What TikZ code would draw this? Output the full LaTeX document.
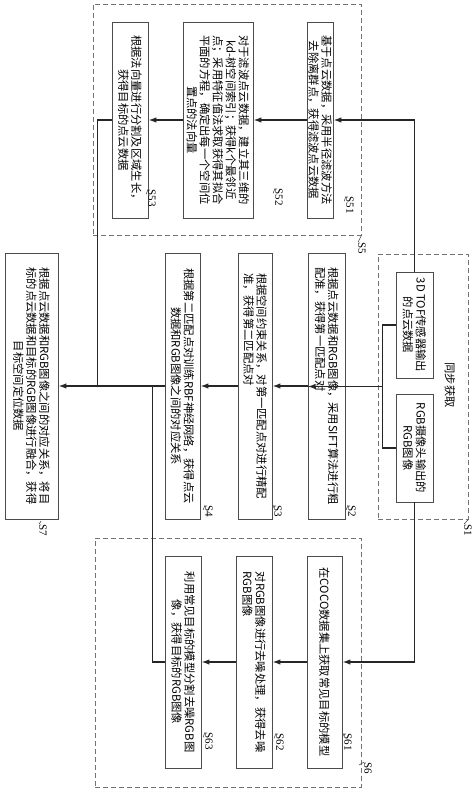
\documentclass[tikz,border=0pt]{standalone}
\usepackage{fontspec}
\setmainfont{Noto Sans CJK SC}
\newfontfamily\lat{Liberation Serif}
\usetikzlibrary{arrows.meta,calc,positioning}
\tikzset{
  box/.style={draw=black!70,line width=0.8pt,rotate=-90,align=center,inner xsep=1pt,inner ysep=0.5pt,font=\fontsize{11.3}{13}\selectfont},
  group/.style={draw=black!55,dash pattern=on 5pt off 3pt,line width=0.8pt,inner sep=0pt},
  flow/.style={draw=black!85,line width=1.4pt,-{Latex[length=8pt,width=5.5pt]}},
  link/.style={draw=black!85,line width=1.4pt},
  stepnum/.style={rotate=-90,inner sep=0pt,font=\lat\fontsize{11}{11}\selectfont},
  tick/.style={draw=black!70,line width=0.6pt}
}
\begin{document}
\begin{tikzpicture}[x=1pt,y=-1pt]
\useasboundingbox (0,0) rectangle (474,792);

\node[group,minimum width=268pt,minimum height=231pt] (g5) at (227,119.5) {};
\node[group,minimum width=90pt,minimum height=265pt] (g1) at (423,386.5) {};
\node[group,minimum width=266pt,minimum height=249pt] (g6) at (228,662.5) {};

\node[box,minimum width=196pt,minimum height=26pt] (s51) at (320,120) {基于点云数据，采用半径滤波方法\\去除离群点，获得滤波点云数据};
\node[box,minimum width=196pt,minimum height=70pt] (s52) at (218,120) {对于滤波点云数据，建立其三维的\\kd-树空间索引；获得k个最邻近\\点；采用特征值法求取获得其拟合\\平面的方程，确定出每一个空间位\\置点的法向量};
\node[box,minimum width=196pt,minimum height=36pt] (s53) at (130,120) {根据法向量进行分割及区域生长，\\获得目标的点云数据};

\node[box,minimum width=106pt,minimum height=37pt] (tof) at (414.5,325) {3D TOF传感器输出\\的点云数据};
\node[box,minimum width=108pt,minimum height=37pt] (cam) at (414.5,448) {RGB摄像头输出的\\RGB图像};
\node[rotate=-90,font=\fontsize{11.3}{13}\selectfont] (sync) at (450,385) {同步获取};

\node[box,minimum width=266pt,minimum height=37pt,align=left] (s2) at (326.5,386) {根据点云数据和RGB图像，采用SIFT算法进行粗\\配准，获得第一匹配点对};
\node[box,minimum width=266pt,minimum height=34pt,align=left] (s3) at (255,386) {根据空间约束关系，对第一匹配点对进行精配\\准，获得第二匹配点对};
\node[box,minimum width=266pt,minimum height=35pt] (s4) at (182.5,386) {根据第二匹配点对训练RBF神经网络，获得点云\\数据和RGB图像之间的对应关系};
\node[box,minimum width=266pt,minimum height=53pt] (s7) at (31.5,386) {根据点云数据和RGB图像之间的对应关系，将目\\标的点云数据和目标的RGB图像进行融合，获得\\目标空间定位数据};

\node[box,minimum width=212pt,minimum height=35pt] (s61) at (324.5,662) {在COCO数据集上获取常见目标的模型};
\node[box,minimum width=212pt,minimum height=36pt,align=left] (s62) at (254,662) {对RGB图像进行去噪处理，获得去噪\\RGB图像};
\node[box,minimum width=212pt,minimum height=36pt] (s63) at (183,662) {利用常见目标的模型分割去噪RGB图\\像，获得目标的RGB图像};

\node[stepnum] (l51) at (350,205) {S51};
\node[stepnum] (l52) at (279,197) {S52};
\node[stepnum] (l53) at (152,198) {S53};
\node[stepnum] (l5) at (362,248) {S5};
\node[stepnum] (l1) at (468,530) {S1};
\node[stepnum] (l2) at (352,511) {S2};
\node[stepnum] (l3) at (278,511) {S3};
\node[stepnum] (l4) at (209,511) {S4};
\node[stepnum] (l7) at (43,530) {S7};
\node[stepnum] (l61) at (348,742) {S61};
\node[stepnum] (l62) at (280,742) {S62};
\node[stepnum] (l63) at (209,741) {S63};
\node[stepnum] (l6) at (368,768) {S6};

\draw[flow] (tof.west) |- (s51);
\draw[flow] (s51) -- (s52);
\draw[flow] (s52) -- (s53);
\draw[link] (s53.south) -- ++(-14,0) coordinate (n) -- (n |- s7);

\draw[link] (tof.south) -- ++(-13,0) |- (cam.south);
\coordinate (fork) at ($(tof.south)!0.5!(cam.south)+(-13,0)$);
\draw[flow] (fork) -- (fork -| s2.south);
\draw[flow] (s2) -- (s3);
\draw[flow] (s3) -- (s4);
\draw[flow] (s4) -- (s7);

\draw[flow] (cam.east) |- (s61);
\draw[flow] (s61) -- (s62);
\draw[flow] (s62) -- (s63);
\draw[link] (s63.south) -- ++(-12,0) coordinate (m) -- (m |- s7);

\draw[tick] (l51.south west) -- ++(-2,5);
\draw[tick] (l52.south west) -- ++(-2,5);
\draw[tick] (l53.south west) -- ++(-2,5);
\draw[tick] (l5.south west) -- (g5.south east);
\draw[tick] (l1.south west) -- (g1.south east);
\draw[tick] (l2.south west) -- ++(-2,5);
\draw[tick] (l3.south west) -- ++(-2,5);
\draw[tick] (l4.south west) -- ++(-2,5);
\draw[tick] (l7.south west) -- ++(2,-3);
\draw[tick] (l61.south west) -- ++(-2,5);
\draw[tick] (l62.south west) -- ++(-2,5);
\draw[tick] (l63.south west) -- ++(-2,5);
\draw[tick] (l6.south west) -- ++(-5,3);
\end{tikzpicture}
\end{document}
